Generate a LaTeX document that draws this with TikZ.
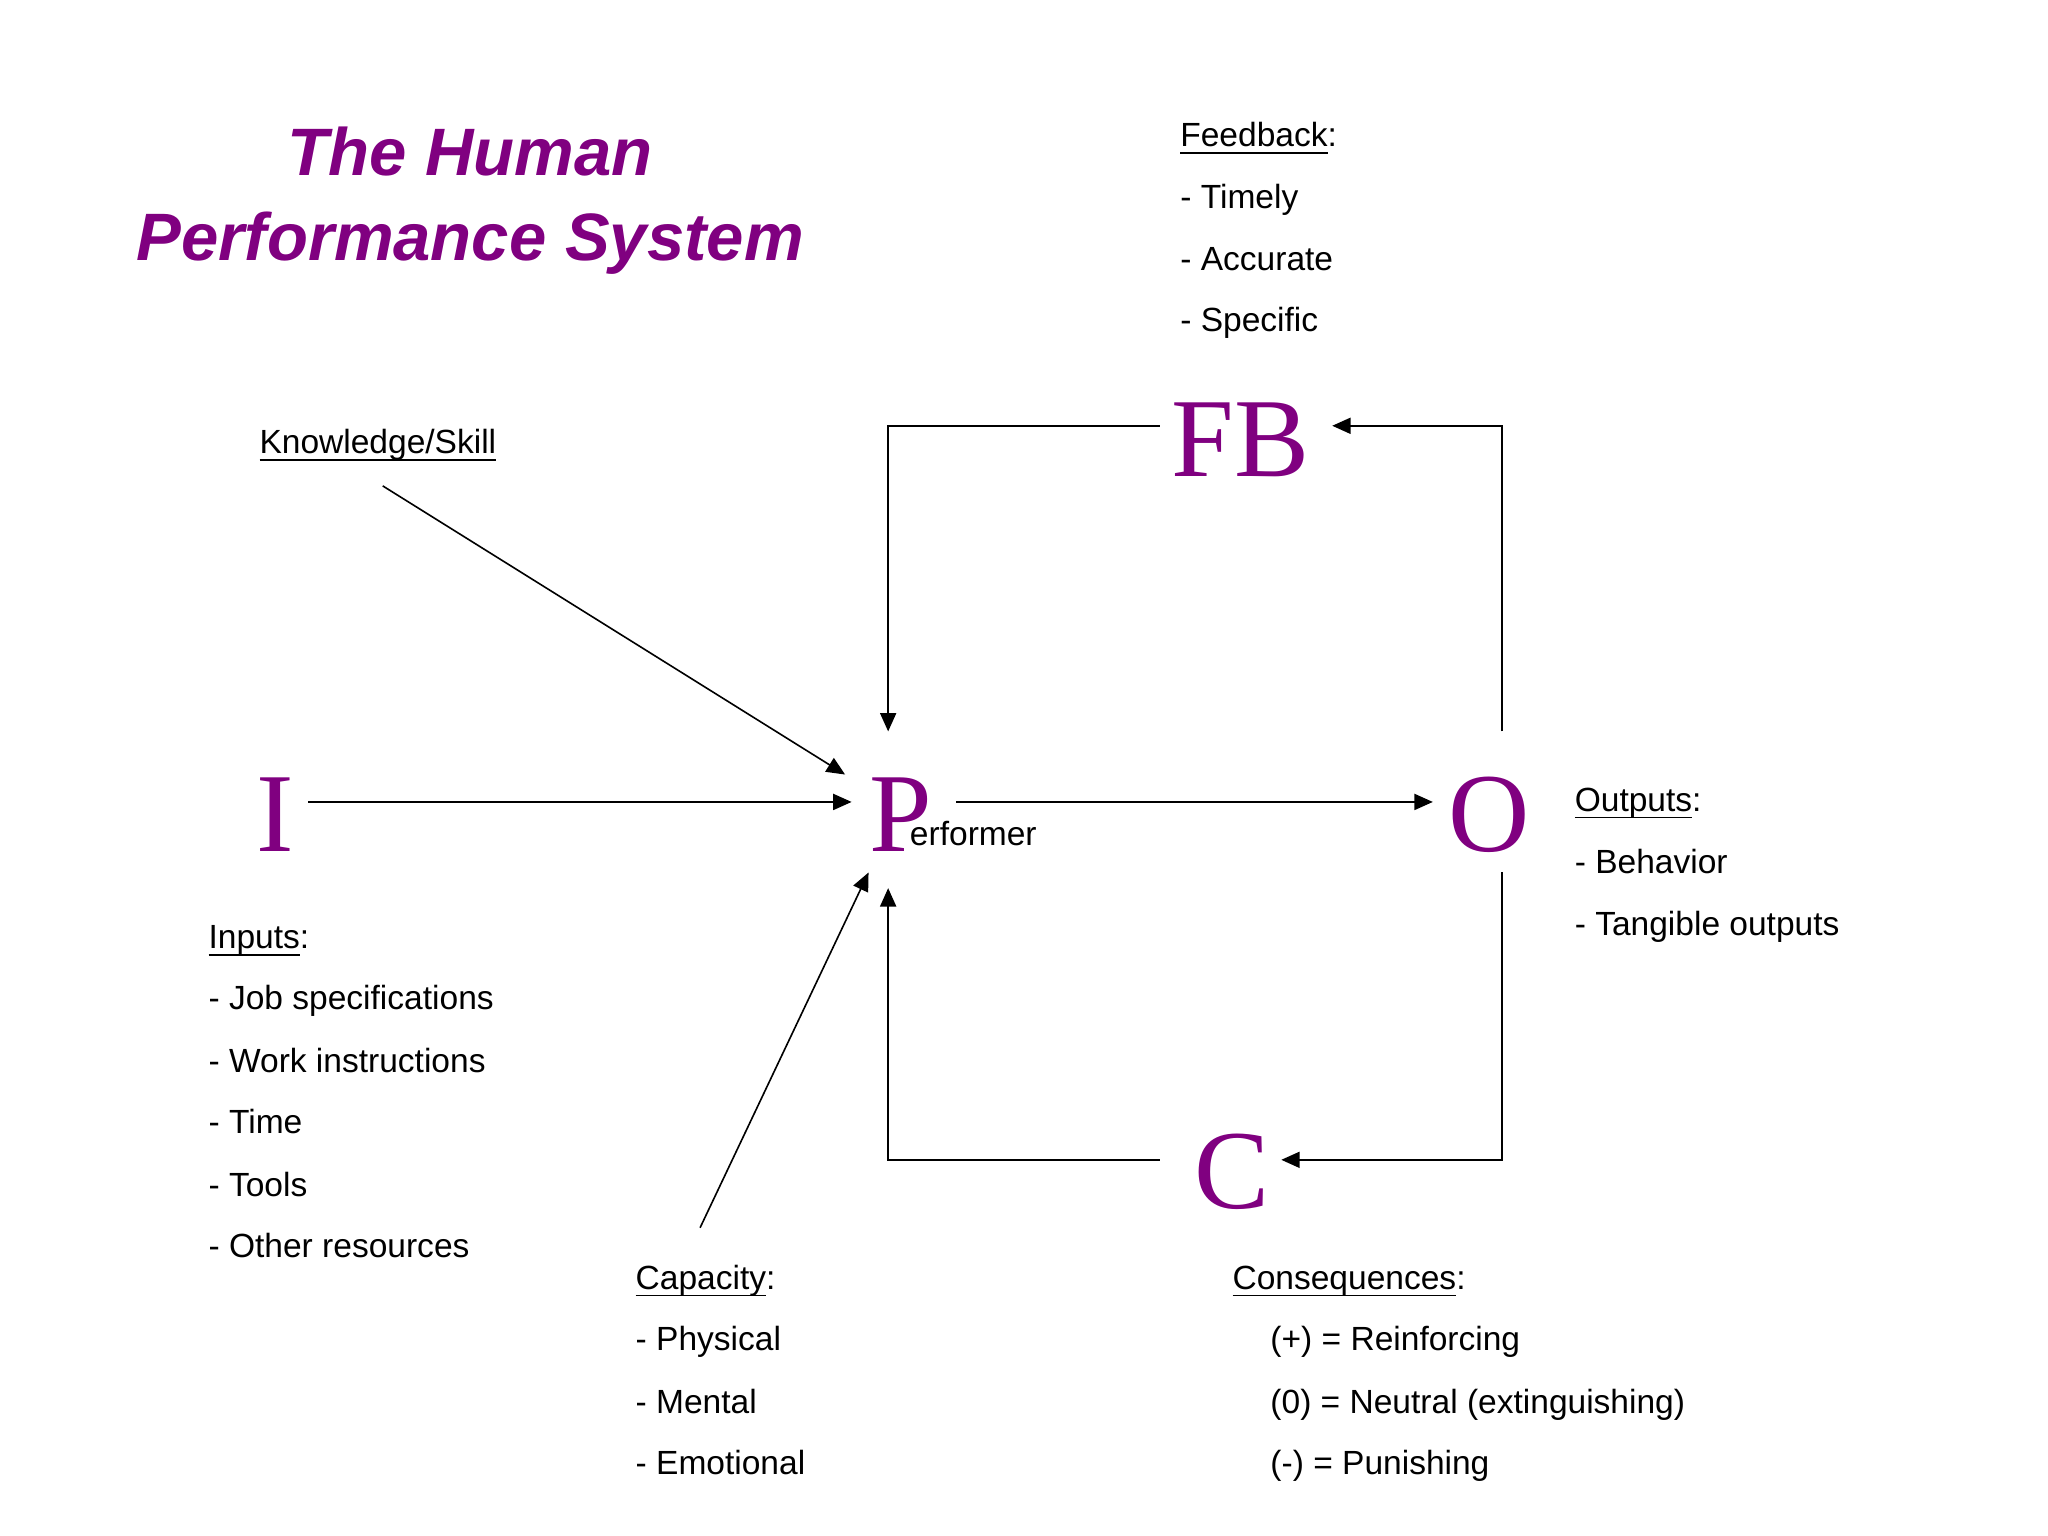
\documentclass[tikz,border=0pt]{standalone}
\usepackage{fontspec}
\setmainfont{Liberation Sans}
\newfontfamily\serifL{Liberation Serif}
\usetikzlibrary{arrows.meta}
\definecolor{hpurple}{RGB}{128,0,128}
\newcommand\myul[1]{\underline{\smash{#1}}}
\begin{document}
\begin{tikzpicture}[x=0.01cm,y=-0.01cm,
  big/.style={font=\serifL\fontsize{24.5}{25}\selectfont,text=hpurple,inner sep=0pt},
  txt/.style={font=\fontsize{7.3}{8}\selectfont,anchor=base west,inner sep=0pt},
  arr/.style={-{Triangle[length=4pt,width=3.5pt]},line width=0.35pt},
  ln/.style={line width=0.35pt}]
\useasboundingbox (0,0) rectangle (1568,1176);
\node[font=\bfseries\itshape\fontsize{14.6}{18.5}\selectfont,text=hpurple,align=center] (title) at (360,154) {The Human\\Performance System};
% feedback
\node[txt] (fb0) at (903,112) {\myul{Feedback}:};
\node[txt] (fb1) at (903,160) {- Timely};
\node[txt] (fb2) at (903,207) {- Accurate};
\node[txt] (fb3) at (903,254) {- Specific};
\node[txt] (ks) at (198,347) {\myul{Knowledge/Skill}};
% big letters
\node[big] (FB) at (950,337) {FB};
\node[big] (I) at (211,624) {I};
\node[big] (P) at (690,624) {P};
\node[txt] (perf) at (696,647) {erformer};
\node[big] (O) at (1140,624) {O};
\node[big] (C) at (943,897) {C};
% outputs
\node[txt] (o0) at (1205,621) {\myul{Outputs}:};
\node[txt] (o1) at (1205,669) {- Behavior};
\node[txt] (o2) at (1205,716) {- Tangible outputs};
% inputs
\node[txt] (i0) at (159,726) {\myul{Inputs}:};
\node[txt] (i1) at (159,773) {- Job specifications};
\node[txt] (i2) at (159,821) {- Work instructions};
\node[txt] (i3) at (159,868) {- Time};
\node[txt] (i4) at (159,916) {- Tools};
\node[txt] (i5) at (159,963) {- Other resources};
% capacity
\node[txt] (c0) at (486,987) {\myul{Capacity}:};
\node[txt] (c1) at (486,1034) {- Physical};
\node[txt] (c2) at (486,1082) {- Mental};
\node[txt] (c3) at (486,1129) {- Emotional};
% consequences
\node[txt] (q0) at (943,987) {\myul{Consequences}:};
\node[txt] (q1) at (972,1034) {(+) = Reinforcing};
\node[txt] (q2) at (972,1082) {(0) = Neutral (extinguishing)};
\node[txt] (q3) at (972,1129) {(-) = Punishing};
% coordinates
\coordinate (Iout) at (236,614);
\coordinate (Pin) at (652,614);
\coordinate (Pout) at (732,614);
\coordinate (Oin) at (1097,614);
\coordinate (ksA) at (293,372);
\coordinate (ksB) at (647,593);
\coordinate (capA) at (536,940);
\coordinate (capB) at (665,668);
\coordinate (fbL) at (888,326);
\coordinate (fbC) at (680,326);
\coordinate (Ptop) at (680,560);
\coordinate (Otop) at (1150,560);
\coordinate (fbRC) at (1150,326);
\coordinate (fbR) at (1020,326);
\coordinate (Obot) at (1150,668);
\coordinate (cRC) at (1150,888);
\coordinate (cR) at (981,888);
\coordinate (cL) at (888,888);
\coordinate (cLC) at (680,888);
\coordinate (Pbot) at (680,680);
\draw[arr] (Iout) -- (Pin);
\draw[arr] (Pout) -- (Oin);
\draw[arr] (ksA) -- (ksB);
\draw[arr] (capA) -- (capB);
\draw[arr] (fbL) -- (fbC) -- (Ptop);
\draw[arr] (Otop) -- (fbRC) -- (fbR);
\draw[arr] (Obot) -- (cRC) -- (cR);
\draw[arr] (cL) -- (cLC) -- (Pbot);
\end{tikzpicture}
\end{document}
